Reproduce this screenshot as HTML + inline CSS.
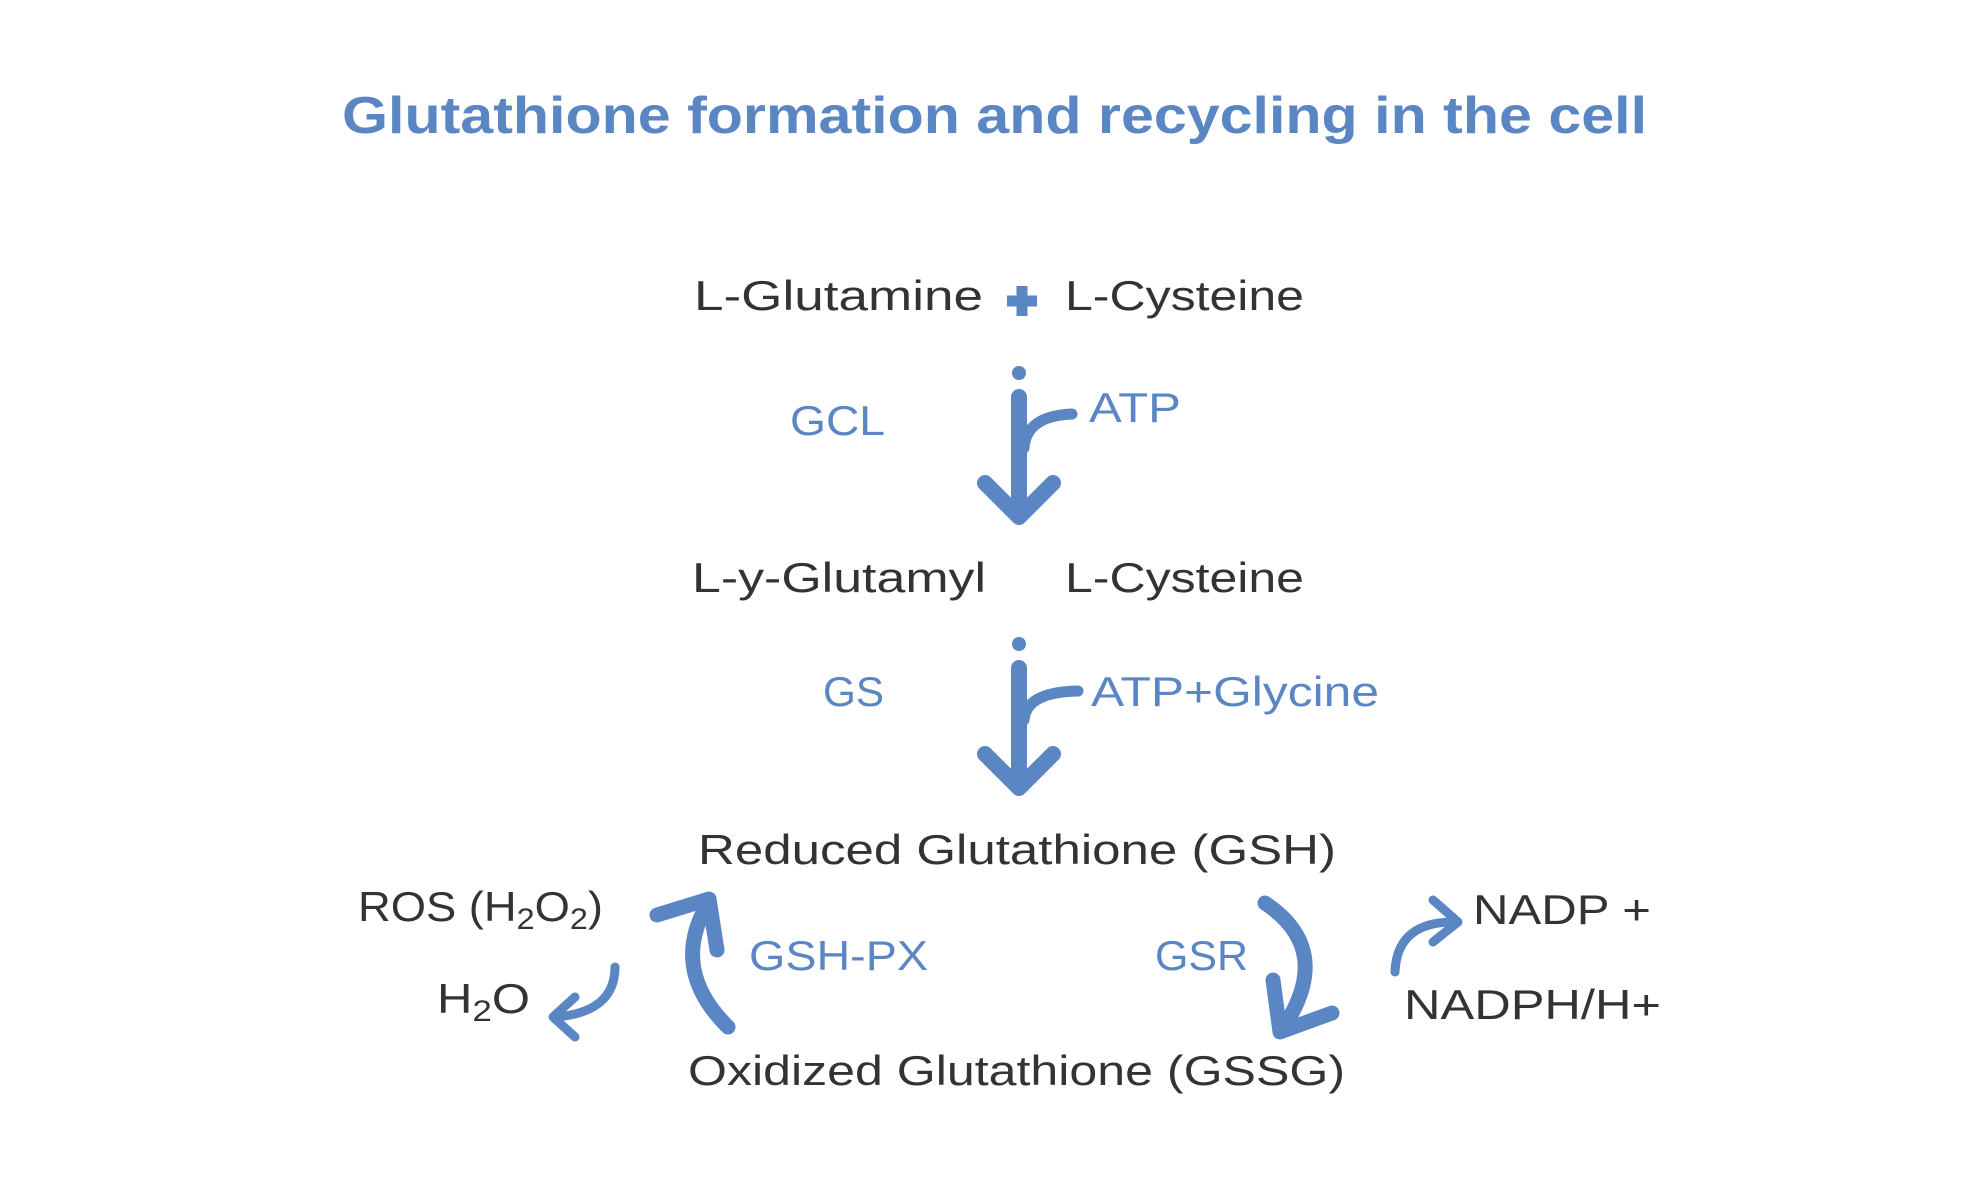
<!DOCTYPE html>
<html><head><meta charset="utf-8"><style>
html,body{margin:0;padding:0;background:#fff;}
svg{display:block;}
text{font-family:"Liberation Sans",sans-serif;}
.k{fill:#333;font-size:42px;}
.b{fill:#5b86c4;font-size:42px;}
</style></head><body>
<svg width="1974" height="1203" viewBox="0 0 1974 1203" xmlns="http://www.w3.org/2000/svg">
<rect width="1974" height="1203" fill="#fff"/>
<text x="342" y="133" font-size="52" font-weight="bold" fill="#5b86c4" textLength="1305" lengthAdjust="spacingAndGlyphs">Glutathione formation and recycling in the cell</text>

<g transform="translate(-4,-4)">
<text class="k" x="698" y="314" textLength="289" lengthAdjust="spacingAndGlyphs">L-Glutamine</text>
<text class="k" x="1069" y="314" textLength="239" lengthAdjust="spacingAndGlyphs">L-Cysteine</text>
<text class="b" x="794" y="439" textLength="95" lengthAdjust="spacingAndGlyphs">GCL</text>
<text class="b" x="1093" y="426" textLength="92" lengthAdjust="spacingAndGlyphs">ATP</text>
<text class="k" x="696" y="596" textLength="294" lengthAdjust="spacingAndGlyphs">L-y-Glutamyl</text>
<text class="k" x="1069" y="596" textLength="239" lengthAdjust="spacingAndGlyphs">L-Cysteine</text>
<text class="b" x="827" y="710" textLength="61" lengthAdjust="spacingAndGlyphs">GS</text>
<text class="b" x="1095" y="710" textLength="288" lengthAdjust="spacingAndGlyphs">ATP+Glycine</text>
<text class="k" x="702" y="868" textLength="638" lengthAdjust="spacingAndGlyphs">Reduced Glutathione (GSH)</text>
<text class="k" x="362" y="925" textLength="245" lengthAdjust="spacingAndGlyphs">ROS (H<tspan font-size="30" dy="8">2</tspan><tspan dy="-8">O</tspan><tspan font-size="30" dy="8">2</tspan><tspan dy="-8">)</tspan></text>
<text class="k" x="441" y="1017" textLength="93" lengthAdjust="spacingAndGlyphs">H<tspan font-size="30" dy="8">2</tspan><tspan dy="-8">O</tspan></text>
<text class="b" x="753" y="974" textLength="179" lengthAdjust="spacingAndGlyphs">GSH-PX</text>
<text class="b" x="1159" y="974" textLength="93" lengthAdjust="spacingAndGlyphs">GSR</text>
<text class="k" x="1477" y="928" textLength="178" lengthAdjust="spacingAndGlyphs">NADP +</text>
<text class="k" x="1408" y="1023" textLength="257" lengthAdjust="spacingAndGlyphs">NADPH/H+</text>
<text class="k" x="692" y="1089" textLength="657" lengthAdjust="spacingAndGlyphs">Oxidized Glutathione (GSSG)</text>
</g>

<path d="M1022 286 V316 M1007 301 H1037" stroke="#5b86c4" stroke-width="11"/>
<g stroke="#5b86c4" fill="none" stroke-linecap="round" stroke-linejoin="round">
<circle cx="1019" cy="373" r="7" fill="#5b86c4" stroke="none"/>
<path d="M1019 397 V515" stroke-width="16"/>
<path d="M1024 448 Q1026 416 1072 414" stroke-width="11"/>
<path d="M985 483 L1019 517 L1053 483" stroke-width="16"/>

<circle cx="1019" cy="644" r="7" fill="#5b86c4" stroke="none"/>
<path d="M1019 668 V786" stroke-width="16"/>
<path d="M1024 720 Q1026 692 1078 691" stroke-width="11"/>
<path d="M985 754 L1019 788 L1053 754" stroke-width="16"/>

<path d="M728 1027 Q670 970 707 905" stroke-width="15"/>
<path d="M657 915 L709 899 L717 950" stroke-width="15"/>
<path d="M615 967 Q615 1012 556 1017" stroke-width="9"/>
<path d="M575 997 L553 1017 L575 1037" stroke-width="9"/>
<path d="M1265 903 Q1335 950 1283 1028" stroke-width="15"/>
<path d="M1273 980 L1280 1032 L1332 1013" stroke-width="15"/>
<path d="M1395 972 Q1397 921 1456 922" stroke-width="9"/>
<path d="M1433 900 L1458 922 L1433 942" stroke-width="9"/>
</g>
</svg>
</body></html>
